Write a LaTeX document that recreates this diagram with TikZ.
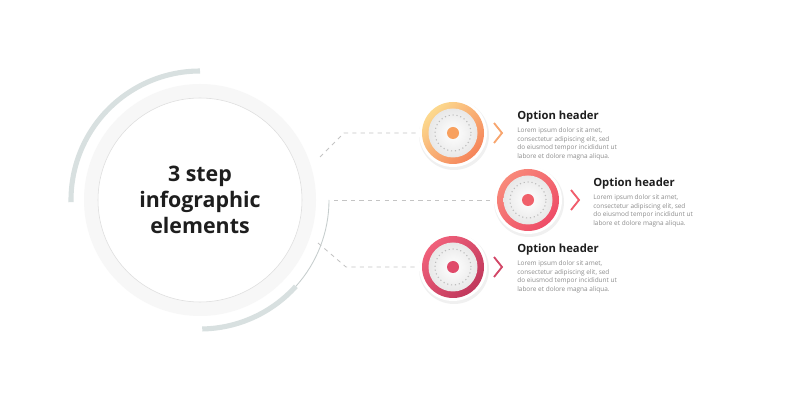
\documentclass[tikz,border=0pt]{standalone}
\usepackage{fontspec}
\setmainfont{Open Sans}

\definecolor{bandgray}{HTML}{F7F7F7}
\definecolor{linegray}{HTML}{DEDEDE}
\definecolor{arcgray}{HTML}{D8E0E0}
\definecolor{dashgray}{HTML}{C4C4C4}
\definecolor{textgray}{HTML}{8C8C8C}
\definecolor{headblack}{HTML}{1E1E1E}
\definecolor{innergray}{HTML}{E8E8E8}
\definecolor{dotgray}{HTML}{BDBDBD}
\definecolor{oneA}{HTML}{FCD98E}
\definecolor{oneB}{HTML}{F5845A}
\definecolor{oneDot}{HTML}{F8A05E}
\definecolor{twoA}{HTML}{F8897A}
\definecolor{twoB}{HTML}{EE4C68}
\definecolor{twoDot}{HTML}{F0606A}
\definecolor{threeA}{HTML}{F0607A}
\definecolor{threeB}{HTML}{C0385C}
\definecolor{threeDot}{HTML}{E04A6A}

\tikzset{
  optnode/.style={circle,minimum size=1.75cm,inner sep=0pt},
  dashline/.style={draw=dashgray,dashed,line width=0.6pt},
  thickarc/.style={draw=arcgray,line width=3.6pt},
  header/.style={anchor=base west,inner sep=0pt,font=\bfseries\fontsize{8}{10}\selectfont,text=headblack},
  bodytext/.style={anchor=north west,inner sep=0pt,align=left,font=\fontsize{4.6}{6.3}\selectfont,text=textgray},
  chevron/.style={line width=1.3pt,line join=miter}
}

\begin{document}
\begin{tikzpicture}[x=0.025cm,y=0.025cm]
   \useasboundingbox[fill=white] (0,0) rectangle (800,400);

   %% Kreis
   \fill[bandgray] (200,200) circle[radius=116];
   \draw[fill=white,draw=linegray,line width=0.4pt] (200,200) circle[radius=102];
   \draw[thickarc] (200,200) ++(181:129) arc[start angle=181,end angle=90,radius=129];
   \draw[thickarc] (200,200) ++(271:129) arc[start angle=271,end angle=318,radius=129];
   \draw[draw=arcgray!80!gray,line width=0.6pt] (200,200) ++(318:129) arc[start angle=318,end angle=360,radius=129];
   \node[font=\bfseries\fontsize{15.2}{18.6}\selectfont,align=center,text=headblack] (title) at (200,200) {3 step\\infographic\\elements};

   %% Optionen
   \node[optnode] (opt1) at (453,267) {};
   \node[optnode] (opt2) at (528,200) {};
   \node[optnode] (opt3) at (453,133) {};

   %% Verbindungen
   \coordinate (d1) at (320,243);
   \coordinate (k1) at (344,267);
   \coordinate (d2) at (334,200);
   \coordinate (d3) at (318,157);
   \coordinate (k3) at (346,133);
   \draw[dashline] (d1) -- (k1) -- (opt1);
   \draw[dashline] (d2) -- (opt2);
   \draw[dashline] (d3) -- (k3) -- (opt3);

   %% Option 1
   \fill[black!6] ([shift={(1,-2)}]opt1.center) circle[radius=35];
   \fill[white] (opt1.center) circle[radius=34];
   \shade[top color=oneA,bottom color=oneB,shading angle=45] (opt1.center) circle[radius=31];
   \shade[inner color=white,outer color=innergray] (opt1.center) circle[radius=24.5];
   \draw[dotgray,dotted,line width=0.8pt] (opt1.center) circle[radius=18];
   \fill[oneDot] (opt1.center) circle[radius=6];
   \draw[chevron,oneB!60!oneA] (494,277) -- (502,267) -- (494,257);
   \node[header] (head1) at (517,280) {Option header};
   \node[bodytext] (body1) at (517,273) {Lorem ipsum dolor sit amet,\\consectetur adipiscing elit, sed\\do eiusmod tempor incididunt ut\\labore et dolore magna aliqua.};

   %% Option 2
   \fill[black!6] ([shift={(1,-2)}]opt2.center) circle[radius=35];
   \fill[white] (opt2.center) circle[radius=34];
   \shade[top color=twoA,bottom color=twoB,shading angle=45] (opt2.center) circle[radius=31];
   \shade[inner color=white,outer color=innergray] (opt2.center) circle[radius=24.5];
   \draw[dotgray,dotted,line width=0.8pt] (opt2.center) circle[radius=18];
   \fill[twoDot] (opt2.center) circle[radius=6];
   \draw[chevron,twoB!70!twoA] (571,210) -- (579,200) -- (571,190);
   \node[header] (head2) at (593,213) {Option header};
   \node[bodytext] (body2) at (593,206) {Lorem ipsum dolor sit amet,\\consectetur adipiscing elit, sed\\do eiusmod tempor incididunt ut\\labore et dolore magna aliqua.};

   %% Option 3
   \fill[black!6] ([shift={(1,-2)}]opt3.center) circle[radius=35];
   \fill[white] (opt3.center) circle[radius=34];
   \shade[top color=threeA,bottom color=threeB,shading angle=45] (opt3.center) circle[radius=31];
   \shade[inner color=white,outer color=innergray] (opt3.center) circle[radius=24.5];
   \draw[dotgray,dotted,line width=0.8pt] (opt3.center) circle[radius=18];
   \fill[threeDot] (opt3.center) circle[radius=6];
   \draw[chevron,threeB!60!threeA] (494,143) -- (502,133) -- (494,123);
   \node[header] (head3) at (517,147) {Option header};
   \node[bodytext] (body3) at (517,140) {Lorem ipsum dolor sit amet,\\consectetur adipiscing elit, sed\\do eiusmod tempor incididunt ut\\labore et dolore magna aliqua.};
\end{tikzpicture}
\end{document}
